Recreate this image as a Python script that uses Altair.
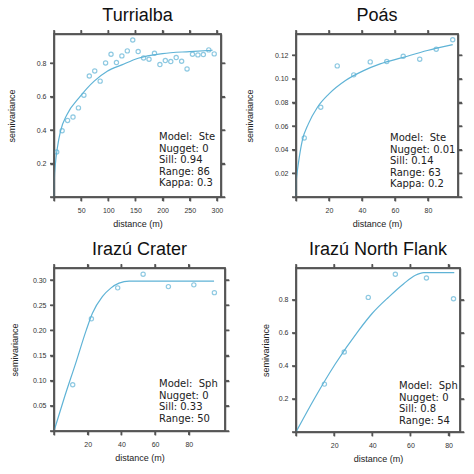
import altair as alt
import pandas as pd

# ---------------- data ----------------
turr_lag = [5, 15, 25, 35, 45, 55, 65, 75, 85, 95, 105, 115, 125, 135, 145,
            155, 165, 175, 185, 195, 205, 215, 225, 235, 245, 255, 265, 275, 285, 295]
turr_gamma = [0.269, 0.396, 0.458, 0.478, 0.533, 0.609, 0.724, 0.754, 0.693, 0.802,
              0.854, 0.804, 0.844, 0.874, 0.939, 0.870, 0.832, 0.824, 0.860, 0.792,
              0.816, 0.810, 0.834, 0.812, 0.766, 0.854, 0.850, 0.852, 0.880, 0.856]
turr_fit_d = [0, 0.5, 2.5, 6, 12, 24, 46, 74, 98, 126, 155, 200, 250, 292]
turr_fit_g = [0, 0.10, 0.195, 0.29, 0.394, 0.494, 0.593, 0.693, 0.752, 0.792, 0.83, 0.858, 0.870, 0.878]

poas_lag = [5, 15, 25, 35, 45, 55, 65, 75, 85, 95]
poas_gamma = [0.050, 0.076, 0.111, 0.1034, 0.1144, 0.1147, 0.1192, 0.1167, 0.1251, 0.1331]
poas_fit_d = [0, 0.2, 0.6, 1.4, 3.8, 7.5, 13, 20, 30, 41, 51, 64.4, 79.6, 95]
poas_fit_g = [0, 0.014, 0.0195, 0.028, 0.0477, 0.0619, 0.076, 0.0873, 0.0986, 0.107, 0.1127, 0.118, 0.124, 0.129]

crat_lag = [11.1, 22.2, 37.8, 52.9, 67.9, 83.0, 95.2]
crat_gamma = [0.092, 0.223, 0.2845, 0.3117, 0.287, 0.2905, 0.275]
crat_fit_d = [0, 6.3, 12.9, 19.2, 22.8, 28.7, 33.7, 38.6, 44.6, 95]
crat_fit_g = [0, 0.068, 0.135, 0.201, 0.234, 0.267, 0.284, 0.294, 0.298, 0.298]

nfl_lag = [14.9, 25.3, 37.9, 52.1, 68.4, 82.6]
nfl_gamma = [0.290, 0.4845, 0.815, 0.955, 0.9325, 0.807]
nfl_fit_d = [0, 10, 20.5, 32.8, 39.8, 48.6, 56.5, 62.6, 67, 83]
nfl_fit_g = [0, 0.209, 0.41, 0.614, 0.716, 0.817, 0.898, 0.949, 0.965, 0.965]

titles = ["Turrialba", "Poás", "Irazú Crater", "Irazú North Flank"]
notes = [
    ["Model:\u00a0\u00a0Ste", "Nugget: 0", "Sill: 0.94", "Range: 86", "Kappa: 0.3"],
    ["Model:\u00a0\u00a0Ste", "Nugget: 0.01", "Sill: 0.14", "Range: 63", "Kappa: 0.2"],
    ["Model:\u00a0\u00a0Sph", "Nugget: 0", "Sill: 0.33", "Range: 50"],
    ["Model:\u00a0\u00a0Sph", "Nugget: 0", "Sill: 0.8", "Range: 54"],
]
x_ticks = [[0, 50, 100, 150, 200, 250, 300], [0, 20, 40, 60, 80], [0, 20, 40, 60, 80], [0, 20, 40, 60, 80]]
y_ticks = [[0, 0.2, 0.4, 0.6, 0.8], [0, 0.02, 0.04, 0.06, 0.08, 0.10, 0.12],
           [0, 0.05, 0.10, 0.15, 0.20, 0.25, 0.30], [0, 0.2, 0.4, 0.6, 0.8]]
x_domains = [[0, 307.5], [0, 98.2], [0, 101.5], [0, 86]]
y_domains = [[0, 0.975], [0, 0.138], [0, 0.324], [0, 0.993]]
y_formats = [".1f", ".2f", ".2f", ".1f"]

COL = "#5fb3d6"
AX = "#555555"
SW = 1.5
NOLABEL0 = "datum.value == 0 ? '' : datum.label"


def panel(i, lag, gamma, fd, fg, w, h, ytp, tx, ty):
    pts = pd.DataFrame({"d": lag, "g": gamma})
    fit = pd.DataFrame({"d": fd, "g": fg})
    xt_df = pd.DataFrame({"t": x_ticks[i]})
    yt_df = pd.DataFrame({"t": y_ticks[i]})
    one = pd.DataFrame({"k": [0]})
    xs = alt.Scale(domain=x_domains[i], nice=False, zero=False)
    ys = alt.Scale(domain=y_domains[i], nice=False, zero=False)
    common = dict(tickColor=AX, tickSize=4, tickWidth=SW, domain=True, domainColor=AX,
                  domainWidth=SW, grid=False)
    xa = alt.Axis(orient="bottom", values=x_ticks[i], labelExpr=NOLABEL0, title="distance (m)",
                  labelPadding=5, minExtent=16, maxExtent=16, titlePadding=6, **common)
    ya = alt.Axis(orient="left", values=y_ticks[i], format=y_formats[i], labelExpr=NOLABEL0,
                  title="semivariance", labelPadding=4, minExtent=22, maxExtent=22,
                  titlePadding=ytp, **common)
    xt = alt.Axis(orient="top", values=x_ticks[i], labels=False, title="", minExtent=4,
                  maxExtent=4, **common)
    yr = alt.Axis(orient="right", values=y_ticks[i], labels=False, title="", minExtent=4,
                  maxExtent=4, **common)
    line = alt.Chart(fit).mark_line(color=COL, strokeWidth=1.2, interpolate="monotone").encode(
        x=alt.X("d:Q", scale=xs, axis=xa), y=alt.Y("g:Q", scale=ys, axis=ya))
    dots = alt.Chart(pts).mark_point(shape="circle", filled=False, size=18, color=COL,
                                     strokeWidth=1.2).encode(
        x=alt.X("d:Q", scale=xs, axis=xt), y=alt.Y("g:Q", scale=ys, axis=yr))
    txt = alt.Chart(one).mark_text(
        text=notes[i], align="left", baseline="top", font="DejaVu Sans", fontSize=10,
        lineHeight=11.5, color="#222222").encode(x=alt.value(tx), y=alt.value(ty))
    # frame and tick marks on all four sides (lattice style)
    box = alt.Chart(one).mark_rect(filled=False, color=AX, strokeWidth=SW).encode(
        x=alt.value(0), x2=alt.value(w), y=alt.value(0), y2=alt.value(h))
    bt = alt.Chart(xt_df).mark_rule(color=AX, strokeWidth=SW).encode(
        x=alt.X("t:Q", scale=xs, axis=None), y=alt.value(h), y2=alt.value(h + 4))
    tt = alt.Chart(xt_df).mark_rule(color=AX, strokeWidth=SW).encode(
        x=alt.X("t:Q", scale=xs, axis=None), y=alt.value(-4), y2=alt.value(0))
    lt = alt.Chart(yt_df).mark_rule(color=AX, strokeWidth=SW).encode(
        y=alt.Y("t:Q", scale=ys, axis=None), x=alt.value(-4), x2=alt.value(0))
    rt = alt.Chart(yt_df).mark_rule(color=AX, strokeWidth=SW).encode(
        y=alt.Y("t:Q", scale=ys, axis=None), x=alt.value(w), x2=alt.value(w + 4))
    return alt.layer(line, dots, txt, box, bt, tt, lt, rt).resolve_axis(
        x="independent", y="independent").properties(
        width=w, height=h,
        title=alt.TitleParams(titles[i], font="Liberation Sans", fontSize=18, fontWeight="normal",
                              anchor="middle", baseline="alphabetic", offset=-10, color="#111111"))


p1 = panel(0, turr_lag, turr_gamma, turr_fit_d, turr_fit_g, 167, 163, 15.8, 105, 98)
p2 = panel(1, poas_lag, poas_gamma, poas_fit_d, poas_fit_g, 162, 163, 19.8, 94, 99)
p3 = panel(2, crat_lag, crat_gamma, crat_fit_d, crat_fit_g, 171, 163, 12.8, 105, 111)
p4 = panel(3, nfl_lag, nfl_gamma, nfl_fit_d, nfl_fit_g, 164, 164, 3.8, 103, 113)

chart = alt.concat(p1, p2, p3, p4, columns=2, spacing={"row": 71, "column": 71},
                   bounds="flush").properties(
    padding={"left": 6, "top": 6, "right": 0, "bottom": 0}, background="white"
).configure_view(stroke=AX, strokeWidth=SW).configure_axis(
    labelFont="Liberation Sans", labelFontSize=7, labelColor="#333333",
    titleFont="Liberation Sans", titleFontSize=9, titleFontWeight="normal", titleColor="#222222"
)

chart.save("out.html", embed_options={"renderer": "svg", "actions": False})
